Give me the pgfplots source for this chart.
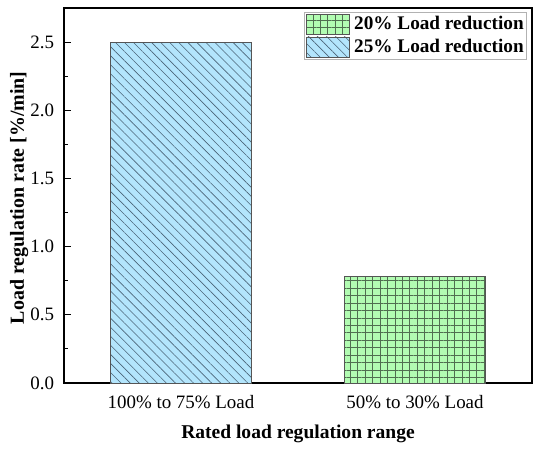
\documentclass[border=0pt]{standalone}
\usepackage{pgfplots}
\pgfplotsset{compat=1.18}
\usetikzlibrary{patterns.meta}
\usepackage{fontspec}
\setmainfont{Liberation Serif}
\definecolor{barblue}{RGB}{179,229,252}
\definecolor{bargreen}{RGB}{178,252,178}
\definecolor{hatchb}{RGB}{75,100,120}
\definecolor{hatchg}{RGB}{80,110,80}
\definecolor{edge}{RGB}{85,85,85}
\pgfplotsset{boxlegend/.style={legend image code/.code={\draw[##1] (0bp,-10bp) rectangle (43bp,10bp);}}}
\begin{document}
\fontsize{19}{23}\selectfont
\begin{tikzpicture}
\useasboundingbox (-64bp,-69bp) rectangle (486bp,383bp);
\begin{axis}[
  at={(0,0)}, anchor=south west,
  scale only axis, width=468bp, height=375bp,
  xmin=-0.5, xmax=1.5, ymin=0, ymax=2.75,
  xtick={0,1}, xticklabels={100\% to 75\% Load, 50\% to 30\% Load},
  x tick style={draw=none},
  ytick={0,0.5,1,1.5,2,2.5}, minor y tick num=1,
  tick pos=left, tick align=inside,
  major tick length=7bp, minor tick length=4bp,
  y tick style={line width=1bp, black},
  axis line style={line width=1.3bp, black},
  /pgf/number format/assume math mode=true,
  yticklabel style={/pgf/number format/fixed, /pgf/number format/fixed zerofill, /pgf/number format/precision=1, xshift=-3.5bp},
  xticklabel style={yshift=-6bp},
  every tick label/.append style={font=\fontsize{19}{23}\selectfont},
  xlabel={\bfseries Rated load regulation range},
  xlabel style={at={(axis description cs:0.5,-0.1347)}, anchor=center, font=\fontsize{19.6}{23}\selectfont},
  ylabel={\bfseries Load regulation rate [\%/min]},
  ylabel style={at={(axis description cs:-0.096,0.494)}, anchor=center, font=\fontsize{20}{23}\selectfont},
  legend style={at={(1,1)}, anchor=north east, xshift=-5bp, yshift=-4bp,
    draw=gray!60, line width=0.6bp, inner sep=1.5bp, row sep=2bp, column sep=3bp,
    font=\bfseries\fontsize{19.3}{23}\selectfont, nodes={inner sep=1.5bp}},
  legend cell align=left,
]
\addplot[ybar, bar width=0.6, bar shift=0pt, fill=bargreen, draw=edge, line width=0.8bp,
  postaction={pattern={Lines[angle=0,distance=7.45bp,line width=0.7bp]}, pattern color=hatchg},
  postaction={pattern={Lines[angle=90,distance=7.45bp,line width=0.7bp]}, pattern color=hatchg},
  boxlegend]
  coordinates {(1,0.78)};
\addlegendentry{20\% Load reduction}
\addplot[ybar, bar width=0.6, bar shift=0pt, fill=barblue, draw=edge, line width=0.8bp,
  postaction={pattern={Lines[angle=-45,distance=6.4bp,line width=0.6bp]}, pattern color=hatchb},
  boxlegend]
  coordinates {(0,2.5)};
\addlegendentry{25\% Load reduction}
\end{axis}
\end{tikzpicture}
\end{document}
